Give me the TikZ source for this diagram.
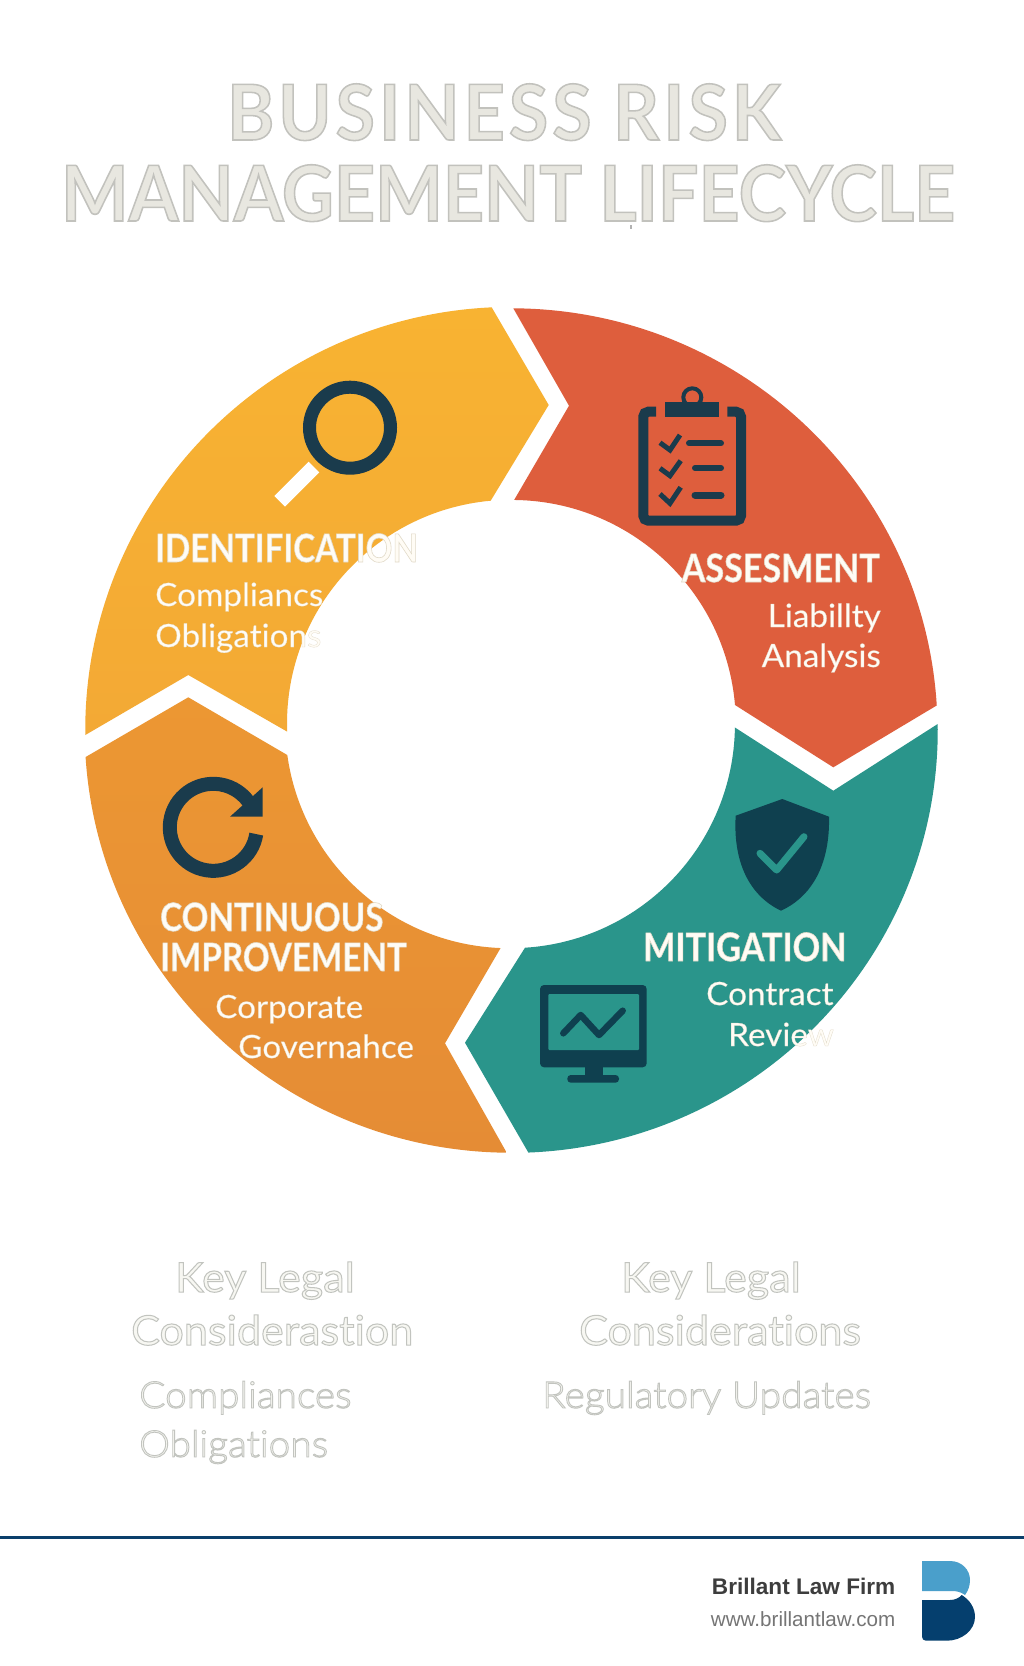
\documentclass[tikz,border=0pt]{standalone}
\usepackage{fontspec}
\setmainfont{Lato}
\newfontfamily\titlefont[FakeBold=2,FakeStretch=0.93]{Lato Bold}
\newfontfamily\titlewidefont[FakeBold=2,FakeStretch=0.93,LetterSpace=5.3]{Lato Bold}
\newfontfamily\headfont[FakeBold=1.5,FakeStretch=0.85]{Lato Bold}
\newfontfamily\headwidefont[FakeBold=1.5,FakeStretch=0.875]{Lato Bold}
\newfontfamily\bodyfont[FakeBold=0.8,FakeStretch=1.04,Ligatures=NoCommon]{Lato}
\newfontfamily\ghostheadfont[FakeBold=2.5,FakeStretch=1.05,Ligatures=NoCommon]{Lato}
\newfontfamily\ghostbodyfont[FakeBold=2.5,FakeStretch=1.05,Ligatures=NoCommon]{Lato Light}
\newfontfamily\firmfont{Liberation Sans}
\definecolor{darkicon}{HTML}{1A3B4C}
\definecolor{darkshield}{HTML}{0F404F}
\definecolor{goldtop}{HTML}{F8B332}
\definecolor{goldbottom}{HTML}{F3A935}
\definecolor{orangetop}{HTML}{EC9733}
\definecolor{orangebottom}{HTML}{E58C35}
\definecolor{segred}{HTML}{DE5E3D}
\definecolor{segteal}{HTML}{2A958B}
\definecolor{rulenavy}{HTML}{0B3F6B}
\definecolor{logolight}{HTML}{4A9FCB}
\definecolor{logodark}{HTML}{053F6E}
% fill and outline of a text given apart
\newcommand{\titleink}[1]{\special{pdf:bc [0.91 0.905 0.88] [0.76 0.76 0.74]}#1\special{pdf:ec}}
\newcommand{\ghostink}[1]{\special{pdf:bc [0.97 0.97 0.95] [0.76 0.77 0.75]}#1\special{pdf:ec}}
\newcommand{\ringink}[1]{\special{pdf:bc [1 0.99 0.96] [0.88 0.85 0.78]}#1\special{pdf:ec}}
\tikzset{
  titletext/.style={inner sep=0pt,anchor=base,font=\titlefont\fontsize{77}{77}\selectfont},
  keytext/.style={inner sep=0pt,anchor=base west,font=\ghostheadfont\fontsize{41}{41}\selectfont},
  itemtext/.style={inner sep=0pt,anchor=base west,font=\ghostbodyfont\fontsize{37}{37}\selectfont},
  headtext/.style={inner sep=0pt,anchor=base west,font=\headfont\fontsize{39}{39}\selectfont},
  headwide/.style={headtext,font=\headwidefont\fontsize{39}{39}\selectfont},
  subtext/.style={inner sep=0pt,anchor=base west,font=\bodyfont\fontsize{32}{32}\selectfont},
  iconline/.style={draw=darkicon,line width=#1},
  outerarc/.style={x radius=426.5,y radius=423},
}
\begin{document}
\begin{tikzpicture}[x=1pt,y=-1pt]
\useasboundingbox (0,0) rectangle (1024,1666);
\fill[white] (0,0) rectangle (1024,1666);

% title
\node[titletext,font=\titlewidefont\fontsize{77}{77}\selectfont] (titleone) at (504,140) {\titleink{BUSINESS RISK}};
\node[titletext] (titletwo) at (508,221) {\titleink{MANAGEMENT LIFECYCLE}};
\fill[black!30] (629.5,225) rectangle (632,229);

% ring
\path[top color=goldtop,bottom color=goldbottom] (85.3,735) arc[start angle=179.3,end angle=267.3,outerarc]
  -- (548.7,405) -- (490.7,500.7) arc[start angle=264.8,end angle=178,radius=224]
  -- (188.3,675) -- cycle;
\fill[segred] (513.3,308.3) arc[start angle=270.3,end angle=356.5,outerarc]
  -- (833.3,767.3) -- (735,705) arc[start angle=355.15,end angle=270.6,radius=224]
  -- (569,405.7) -- cycle;
\fill[segteal] (937.7,724) arc[start angle=359.2,end angle=447.7,outerarc]
  -- (465,1042.7) -- (525,947.7) arc[start angle=86.4,end angle=0.85,radius=224]
  -- (833.3,790.7) -- cycle;
\path[top color=orangetop,bottom color=orangebottom] (506.7,1152.7) arc[start angle=90.6,end angle=176.3,outerarc]
  -- (188.3,697.3) -- (287.3,755) arc[start angle=172.1,end angle=92.2,radius=224]
  -- (445,1043.3) -- cycle;

% magnifier
\draw[iconline=13pt] (350,427.7) circle (40.5);
\draw[white,line width=15pt] (314,467) -- (279.7,501.3);

% clipboard
\draw[iconline=10pt,rounded corners=5pt] (656,411.7) -- (643.3,411.7) -- (643.3,520.7) -- (741,520.7) -- (741,411.7) -- (727.3,411.7);
\fill[darkicon] (665.3,401.7) rectangle (719,417.3);
\draw[iconline=4pt] (692.3,397.3) circle (9);
\draw[iconline=5pt] (660,442.7) -- (670,450) -- (680,435);
\draw[iconline=5pt] (660,468.3) -- (670,475.7) -- (680.7,460.7);
\draw[iconline=5pt] (660,494) -- (670,503.3) -- (680.7,487.3);
\draw[iconline=6pt,line cap=round] (689,443.3) -- (721,443.3);
\draw[iconline=6pt,line cap=round] (695,468) -- (721,468);
\draw[iconline=7pt,line cap=round] (695,495) -- (721,495);

% shield
\fill[darkshield] (782.3,799) -- (829,816.7) .. controls (830,860) and (815,895) .. (781,910.7)
  .. controls (748,895) and (733,860) .. (735.7,815.7) -- cycle;
\draw[segteal,line width=7pt,line cap=round,line join=round] (760,853.3) -- (776.7,870) -- (804,836.7);

% monitor
\fill[darkshield,rounded corners=4pt] (540,985) rectangle (646.7,1067.3);
\fill[segteal,rounded corners=1pt] (548.3,994) rectangle (639,1050);
\fill[darkshield] (585,1065) rectangle (603.3,1076);
\fill[darkshield,rounded corners=3.5pt] (567.3,1075) rectangle (619,1082.7);
\draw[darkshield,line width=6.5pt,line cap=round,line join=round] (563.3,1033.3) -- (580.7,1015) -- (599,1035) -- (622.7,1010.7);

% refresh
\draw[iconline=14pt] (213.3,827.3) ++(9:43.5) arc[start angle=9,end angle=330,radius=43.5];
\fill[darkicon] (262.7,787.3) -- (262.7,816.7) -- (230,816.7) -- cycle;

% ring labels
\node[headtext] (identhead) at (155,562) {\ringink{IDENTIFICATION}};
\node[subtext] (identone) at (155,606) {\ringink{Compliancs}};
\node[subtext] (identtwo) at (155,647) {\ringink{Obligations}};
\node[headwide,anchor=base east] (assesshead) at (880,582) {\ringink{ASSESMENT}};
\node[subtext,anchor=base east] (assessone) at (881,627) {\ringink{Liabillty}};
\node[subtext,anchor=base east] (assesstwo) at (881,667) {\ringink{Analysis}};
\node[headwide] (mitighead) at (643,961) {\ringink{MITIGATION}};
\node[subtext] (mitigone) at (706,1005) {\ringink{Contract}};
\node[subtext] (mitigtwo) at (728,1046) {\ringink{Review}};
\node[headtext] (contone) at (160,931) {\ringink{CONTINUOUS}};
\node[headtext] (conttwo) at (160,971) {\ringink{IMPROVEMENT}};
\node[subtext] (corpone) at (215,1018) {\ringink{Corporate}};
\node[subtext] (corptwo) at (238,1058) {\ringink{Governahce}};

% legal notes
\node[keytext] (keyleft) at (175,1292) {\ghostink{Key Legal}};
\node[keytext] (consleft) at (131,1345) {\ghostink{Considerastion}};
\node[itemtext] (itemone) at (139,1408) {\ghostink{Compliances}};
\node[itemtext] (itemtwo) at (139,1457) {\ghostink{Obligations}};
\node[keytext] (keyright) at (621,1292) {\ghostink{Key Legal}};
\node[keytext] (consright) at (579,1345) {\ghostink{Considerations}};
\node[itemtext] (itemthree) at (542,1408) {\ghostink{Regulatory Updates}};

% footer
\fill[rulenavy] (0,1535.8) rectangle (1024,1538.8);
\node[inner sep=0pt,anchor=base east,text=black!76,font=\firmfont\bfseries\fontsize{22.6}{24}\selectfont] (firmname) at (895.5,1594) {Brillant Law Firm};
\node[inner sep=0pt,anchor=base east,text=black!54,font=\firmfont\fontsize{20.6}{24}\selectfont] (firmurl) at (895.5,1626.7) {www.brillantlaw.com};
\fill[logolight] (922,1561) -- (950,1561) .. controls (962,1561) and (970,1570) .. (970,1580) .. controls (970,1586) and (968,1591) .. (965,1595)
  .. controls (961,1592) and (957,1591) .. (951.7,1591) -- (922,1591) -- cycle;
\fill[logodark] (922,1600) -- (950,1600) .. controls (955,1600) and (959,1598) .. (961.7,1595)
  .. controls (970,1600) and (975,1608) .. (975,1617) .. controls (975,1630) and (962,1640.7) .. (946.7,1640.7)
  -- (926,1640.7) .. controls (923.5,1640.7) and (922,1639) .. (922,1636.7) -- cycle;
\end{tikzpicture}
\end{document}
